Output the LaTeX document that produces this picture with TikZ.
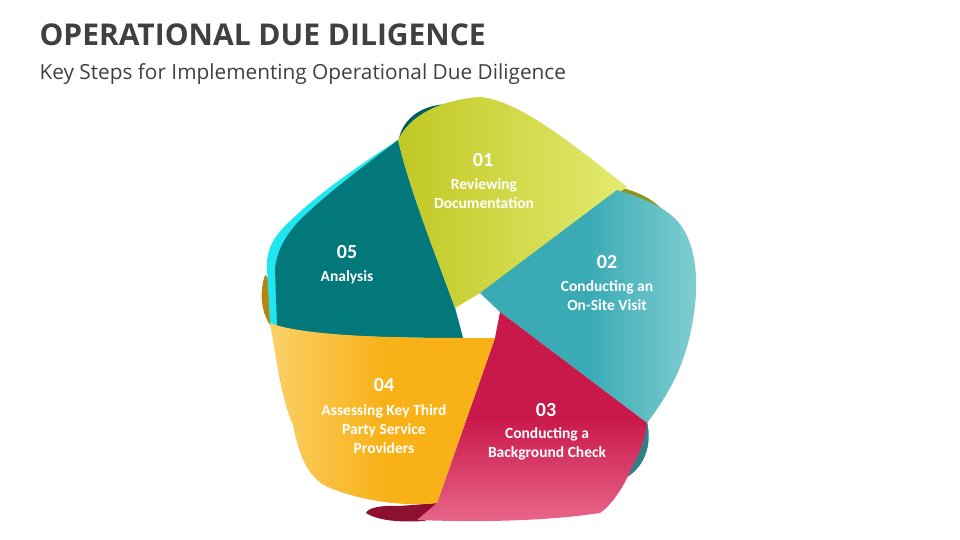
\documentclass[tikz,border=0pt]{standalone}
\usepackage{fontspec}
\setmainfont{Open Sans}
\newfontfamily\lbl{Carlito}
\definecolor{limeA}{HTML}{C0C824}
\definecolor{limeB}{HTML}{E4EA70}
\definecolor{limeF}{HTML}{8E9418}
\definecolor{tealA}{HTML}{3AABB5}
\definecolor{tealB}{HTML}{82CFD2}
\definecolor{tealF}{HTML}{2E8088}
\definecolor{redA}{HTML}{C9184A}
\definecolor{redB}{HTML}{E8668A}
\definecolor{redF}{HTML}{8E1030}
\definecolor{yelA}{HTML}{F8B218}
\definecolor{yelB}{HTML}{FAD068}
\definecolor{yelF}{HTML}{B88410}
\definecolor{dtA}{HTML}{03787A}
\definecolor{dtB}{HTML}{20E6EE}
\definecolor{dtF}{HTML}{045C60}
\definecolor{ttl}{HTML}{404040}
\begin{document}
\begin{tikzpicture}[x=1pt,y=-1pt,
  lab/.style={text=white,font=\lbl\bfseries\fontsize{15.5}{19}\selectfont,align=center},
  num/.style={text=white,font=\lbl\bfseries\fontsize{20}{20}\selectfont}]
\fill[white] (0,0) rectangle (960,540);
\useasboundingbox (0,0) rectangle (960,540);
\node[anchor=west,text=ttl,font=\bfseries\fontsize{30}{34}\selectfont] (title) at (36,35) {OPERATIONAL DUE DILIGENCE};
\node[anchor=west,text=ttl,font=\fontsize{20.8}{24}\selectfont] (sub) at (36,74) {Key Steps for Implementing Operational Due Diligence};
% folds
\fill[dtF] (398,145) .. controls (400,120) and (420,105) .. (448,104) .. controls (460,104) and (470,106) .. (478,110) -- (430,160) -- cycle;
\fill[limeF] (612,186) .. controls (640,190) and (668,205) .. (675,232) -- (640,260) -- cycle;
\fill[tealF] (645,415) .. controls (654,440) and (647,468) .. (622,480) -- (600,470) -- cycle;
\fill[redF] (437,503) -- (400,506) .. controls (380,505) and (368,508) .. (366,513) .. controls (380,522) and (405,522) .. (425,521) -- cycle;
\fill[yelF] (270,325) .. controls (260,310) and (260,290) .. (265,275) -- (290,300) -- cycle;
% 05
\fill[dtB] (455,308) .. controls (430,240) and (410,190) .. (398,140)
  .. controls (360,165) and (315,195) .. (283,228) .. controls (270,242) and (266,255) .. (267,270)
  -- (270,323) .. controls (285,335) and (380,338) .. (463,338) -- cycle;
\fill[dtA] (455,308) .. controls (430,240) and (410,190) .. (398,140)
  .. controls (370,162) and (330,190) .. (298,222) .. controls (282,240) and (276,255) .. (275,270)
  -- (277,327) .. controls (300,335) and (380,338) .. (463,338) -- cycle;
% 01
\shade[left color=limeA,right color=limeB] (455,308) .. controls (430,240) and (410,190) .. (398,140)
  .. controls (410,115) and (440,100) .. (480,97) .. controls (520,100) and (580,150) .. (627,187)
  -- (480,293) -- cycle;
% 02
\shade[left color=tealA,right color=tealB,middle color=tealA] (480,293) -- (617,190) .. controls (650,200) and (675,212) .. (685,232)
  .. controls (700,260) and (698,300) .. (690,335) .. controls (682,370) and (668,395) .. (647,423) -- (500,312) -- cycle;
% 03
\shade[top color=redA,bottom color=redB,middle color=redA] (500,312) -- (647,423) .. controls (645,440) and (640,452) .. (633,465)
  .. controls (625,485) and (612,505) .. (600,513) .. controls (540,522) and (470,522) .. (417,520)
  -- (437,503) -- (495,338) -- cycle;
% 04
\shade[left color=yelB,right color=yelA,middle color=yelA] (495,338) -- (463,338) .. controls (380,338) and (300,335) .. (270,323)
  .. controls (278,370) and (282,400) .. (293,425) .. controls (300,460) and (310,480) .. (330,488)
  .. controls (360,500) and (400,507) .. (437,503) -- cycle;
% labels
\node[num] (n1) at (483,160) {01};
\node[lab] (t1) at (484,194) {Reviewing\\Documentation};
\node[num] (n2) at (607,262) {02};
\node[lab] (t2) at (607,296) {Conducting an\\On-Site Visit};
\node[num] (n3) at (546,410) {03};
\node[lab] (t3) at (547,444) {Conducting a\\Background Check};
\node[num] (n4) at (384,385) {04};
\node[lab] (t4) at (384,429) {Assessing Key Third\\Party Service\\Providers};
\node[num] (n5) at (347,252) {05};
\node[lab] (t5) at (347,277) {Analysis};
\end{tikzpicture}
\end{document}
